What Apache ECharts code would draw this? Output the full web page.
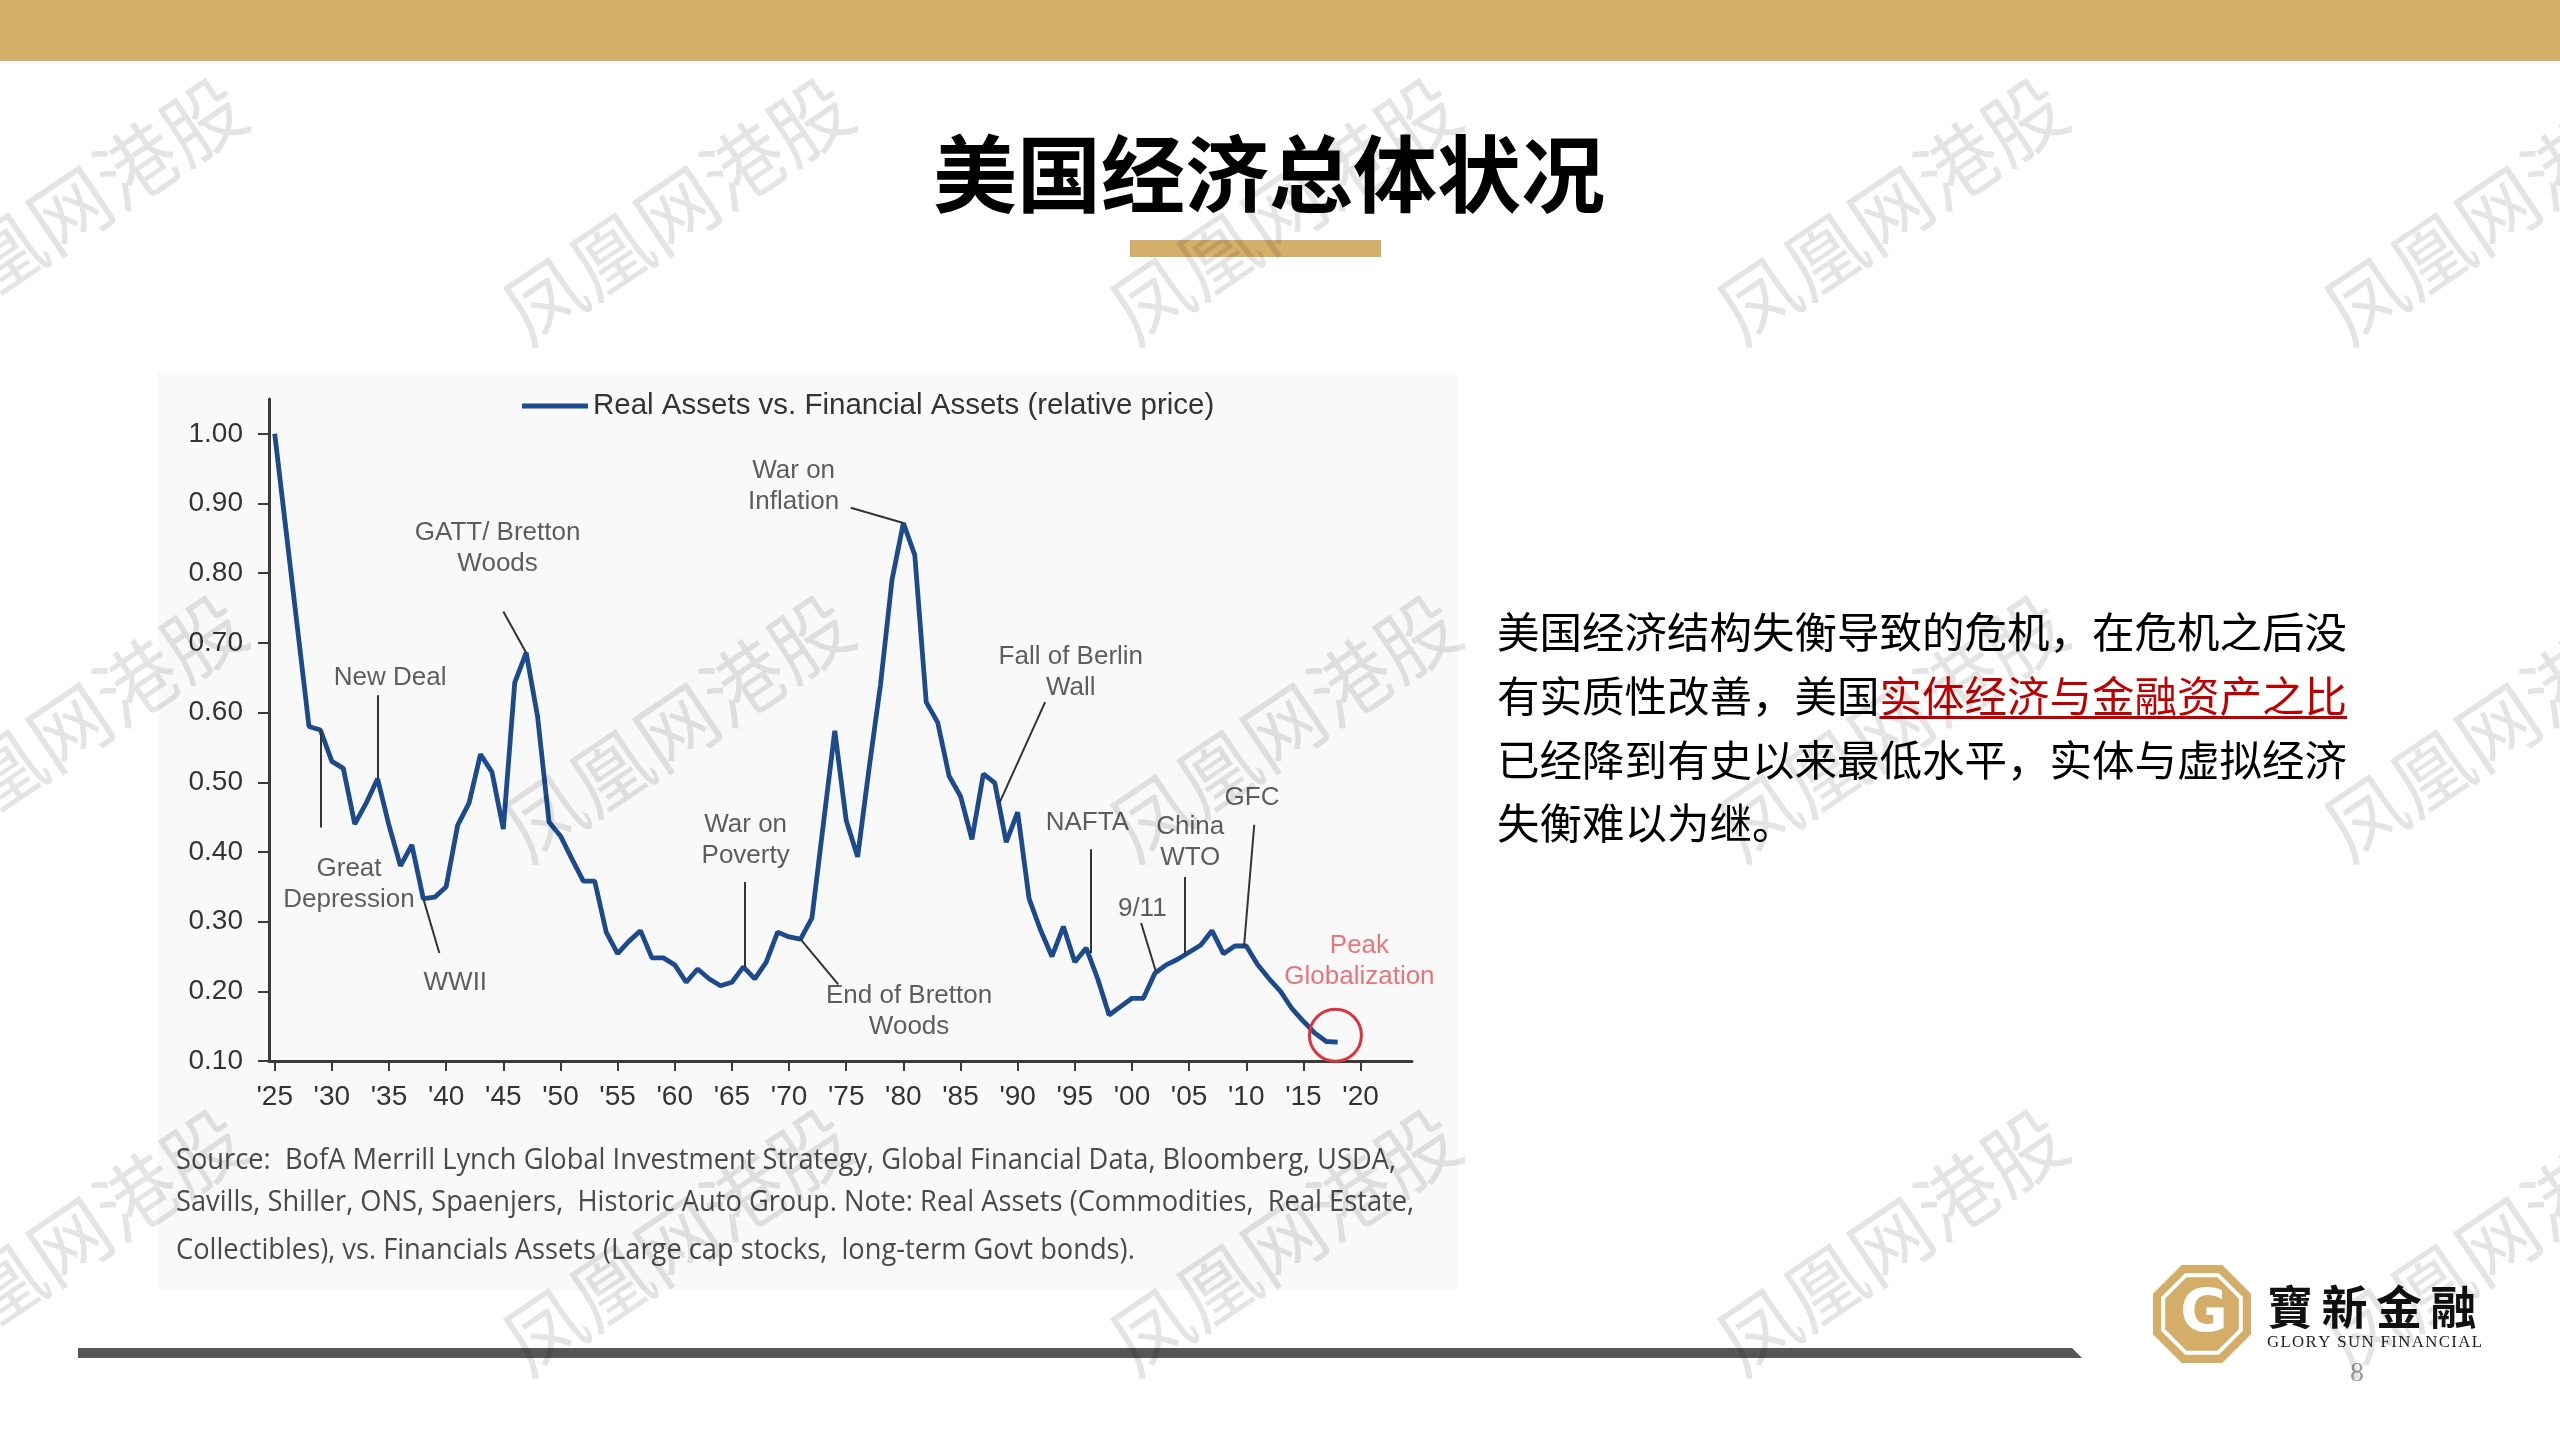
<!DOCTYPE html>
<html>
<head>
<meta charset="utf-8">
<script src="https://cdn.jsdelivr.net/npm/echarts@6/dist/echarts.min.js"></script>
<style>
html,body{margin:0;padding:0;background:#ffffff;}
#c{width:2560px;height:1440px;}
</style>
</head>
<body>
<div id="c"></div>
<script>
// ---------- DATA ----------
const years = [1925,1926,1927,1928,1929,1930,1931,1932,1933,1934,1935,1936,1937,1938,1939,1940,1941,1942,1943,1944,1945,1946,1947,1948,1949,1950,1951,1952,1953,1954,1955,1956,1957,1958,1959,1960,1961,1962,1963,1964,1965,1966,1967,1968,1969,1970,1971,1972,1973,1974,1975,1976,1977,1978,1979,1980,1981,1982,1983,1984,1985,1986,1987,1988,1989,1990,1991,1992,1993,1994,1995,1996,1997,1998,1999,2000,2001,2002,2003,2004,2005,2006,2007,2008,2009,2010,2011,2012,2013,2014,2015,2016,2017,2018];
const relativePrice = [1.00,0.86,0.72,0.58,0.575,0.53,0.52,0.44,0.47,0.505,0.438,0.38,0.41,0.333,0.335,0.35,0.438,0.47,0.54,0.515,0.433,0.643,0.686,0.594,0.443,0.423,0.39,0.358,0.358,0.285,0.254,0.272,0.287,0.248,0.248,0.238,0.213,0.232,0.218,0.208,0.213,0.235,0.218,0.242,0.285,0.278,0.275,0.305,0.44,0.574,0.445,0.393,0.52,0.64,0.79,0.872,0.826,0.615,0.586,0.509,0.48,0.418,0.512,0.499,0.414,0.457,0.333,0.288,0.25,0.293,0.242,0.262,0.218,0.166,0.178,0.19,0.19,0.226,0.238,0.246,0.256,0.266,0.287,0.254,0.265,0.265,0.238,0.218,0.2,0.175,0.157,0.14,0.128,0.127];
const seriesName = 'Real Assets vs. Financial Assets (relative price)';
const xTickYears = [1925,1930,1935,1940,1945,1950,1955,1960,1965,1970,1975,1980,1985,1990,1995,2000,2005,2010,2015,2020];
const yTickValues = [0.1,0.2,0.3,0.4,0.5,0.6,0.7,0.8,0.9,1.0];

// annotation texts anchored at data coordinates [year, value]
const annotationTexts = ['GATT/ Bretton\nWoods','New Deal','Great\nDepression','WWII','War on\nInflation','Fall of Berlin\nWall','War on\nPoverty','End of Bretton\nWoods','NAFTA','China\nWTO','GFC','9/11','Peak\nGlobalization'];
const annotationAnchors = [[1944.5,0.835],[1935.1,0.650],[1931.5,0.353],[1940.8,0.212],[1970.4,0.925],[1994.65,0.658],[1966.2,0.416],[1980.5,0.171],[1996.1,0.442],[2005.1,0.414],[2010.5,0.477],[2000.9,0.318],[2019.9,0.2435]];
const leaderLines = [
  [[1945.0,0.745],[1947,0.686]],
  [[1934,0.625],[1934,0.505]],
  [[1929,0.575],[1929,0.435]],
  [[1938,0.333],[1939.4,0.255]],
  [[1975.4,0.894],[1980,0.872]],
  [[1992.4,0.615],[1988.4,0.47]],
  [[1966.1,0.357],[1966.1,0.235]],
  [[1971,0.275],[1974.3,0.21]],
  [[1996.4,0.404],[1996.4,0.255]],
  [[2004.65,0.364],[2004.65,0.253]],
  [[2010.7,0.439],[2009.8,0.264]],
  [[2000.8,0.298],[2002.1,0.228]]
];
const peakCircleAt = [2017.8, 0.137];

const titleText = '美国经济总体状况';
const bodyLines = ['美国经济结构失衡导致的危机，在危机之后没','有实质性改善，美国','实体经济与金融资产之比','已经降到有史以来最低水平，实体与虚拟经济','失衡难以为继。'];
const sourceLines = ['Source:  BofA Merrill Lynch Global Investment Strategy, Global Financial Data, Bloomberg, USDA,','Savills, Shiller, ONS, Spaenjers,  Historic Auto Group. Note: Real Assets (Commodities,  Real Estate,','Collectibles), vs. Financials Assets (Large cap stocks,  long-term Govt bonds).'];
const logoChars = ['寶','新','金','融'];
const logoEnglish = 'GLORY SUN FINANCIAL';
const pageNumber = '8';
const watermarkText = '凤凰网港股';

// ---------- helpers ----------
const mctx = document.createElement('canvas').getContext('2d');
function textWidth(str, font){ mctx.font = font; return mctx.measureText(str).width; }
function octagon(cx, cy, r){
  const pts=[]; for(let k=0;k<8;k++){const a=(22.5+45*k)*Math.PI/180; pts.push([cx+r*Math.cos(a), cy+r*Math.sin(a)]);} return pts;
}

const gold = '#d4b06b';
const graphics = [];
// top band
graphics.push({type:'rect', z:-20, shape:{x:0,y:0,width:2560,height:61}, style:{fill:gold}});
// chart panel
graphics.push({type:'rect', z:-20, shape:{x:158,y:372,width:1299,height:918}, style:{fill:'#f9f9f9'}});
// title
graphics.push({type:'text', z:5, x:1269, y:174, style:{text:titleText, font:'bold 84px "Noto Sans CJK SC"', fill:'#000', textAlign:'center', textVerticalAlign:'middle'}});
graphics.push({type:'rect', z:5, shape:{x:1130,y:240,width:251,height:17}, style:{fill:'#d4af6a'}});
// body text
const bodyFont = '42.5px "Noto Sans CJK SC"';
graphics.push({type:'text', z:5, x:1497, y:632, style:{text:bodyLines[0], font:bodyFont, fill:'#000', textVerticalAlign:'middle'}});
graphics.push({type:'text', z:5, x:1497, y:696, style:{text:'{a|'+bodyLines[1]+'}{r|'+bodyLines[2]+'}', font:bodyFont, textVerticalAlign:'middle',
  rich:{a:{fill:'#000', font:bodyFont}, r:{fill:'#c00000', font:bodyFont}}}});
const redStart = 1497 + textWidth(bodyLines[1], bodyFont);
const redW = textWidth(bodyLines[2], bodyFont);
graphics.push({type:'rect', z:5, shape:{x:redStart, y:716, width:redW, height:3}, style:{fill:'#c00000'}});
graphics.push({type:'text', z:5, x:1497, y:760, style:{text:bodyLines[3], font:bodyFont, fill:'#000', textVerticalAlign:'middle'}});
graphics.push({type:'text', z:5, x:1497, y:823, style:{text:bodyLines[4], font:bodyFont, fill:'#000', textVerticalAlign:'middle'}});
// source note (condensed)
const srcFont = '29px "Open Sans"';
const srcScale = 1220 / textWidth(sourceLines[0], srcFont);
[1161,1203,1251].forEach((yy,i)=>{
  graphics.push({type:'text', z:5, x:176, y:yy, scaleX:srcScale, style:{text:sourceLines[i], font:srcFont, fill:'#4a4a4a', textVerticalAlign:'middle'}});
});
// bottom bar
graphics.push({type:'polygon', z:5, shape:{points:[[78,1348],[2072,1348],[2082,1358],[78,1358]]}, style:{fill:'#575557'}});
// logo
graphics.push({type:'polygon', z:5, shape:{points:octagon(2202,1314,53)}, style:{fill:'#d4ae69'}});
graphics.push({type:'polygon', z:6, shape:{points:octagon(2202,1314,42)}, style:{fill:'none', stroke:'#ffffff', lineWidth:4}});
graphics.push({type:'text', z:7, x:2204, y:1316, style:{text:'G', font:'bold 58px "DejaVu Sans"', fill:'#ffffff', textAlign:'center', textVerticalAlign:'middle'}});
logoChars.forEach((ch,i)=>{
  graphics.push({type:'text', z:5, x:2290+i*54.5, y:1307, style:{text:ch, font:'bold 46px "Noto Sans CJK TC"', fill:'#111', textAlign:'center', textVerticalAlign:'middle'}});
});
const engFont = '17px "Liberation Serif"';
const engSpaced = logoEnglish.split('').join('\u200A');
graphics.push({type:'text', z:5, x:2267, y:1343, scaleX: 215/textWidth(engSpaced, engFont), style:{text:engSpaced, font:engFont, fill:'#222', textVerticalAlign:'middle'}});
graphics.push({type:'text', z:5, x:2357, y:1374, style:{text:pageNumber, font:'28px "Liberation Serif"', fill:'#9a9a9a', textAlign:'center', textVerticalAlign:'middle'}});
// watermarks
[210,727,1241].forEach(wy=>{
  [70,677,1284,1891,2498].forEach(wx=>{
    graphics.push({type:'text', z:100, silent:true, x:wx, y:wy, rotation:34*Math.PI/180,
      style:{text:watermarkText, font:'80px "Noto Sans CJK SC"', fill:'rgba(0,0,0,0.105)', textAlign:'center', textVerticalAlign:'middle'}});
  });
});

// ---------- CHART ----------
const axisColor = '#3a3a3a';
const labelColor = '#333333';
const chart = echarts.init(document.getElementById('c'), null, {renderer:'canvas'});
const option = {
  animation:false,
  backgroundColor:'#ffffff',
  grid:{left:269, top:399, width:1143, height:662, containLabel:false},
  legend:{
    data:[seriesName], left:522, top:391, padding:0,
    icon:'rect', itemWidth:66, itemHeight:5, itemGap:6,
    textStyle:{fontFamily:'Liberation Sans', fontSize:29.5, color:'#333', padding:[0,0,0,0]}
  },
  xAxis:{
    type:'value', min:1924.5, max:2024.5,
    axisLine:{show:true, lineStyle:{color:axisColor, width:3}},
    axisTick:{show:true, customValues:xTickYears, length:10, lineStyle:{color:axisColor, width:2}},
    axisLabel:{customValues:xTickYears, formatter:v=>"'"+String(Math.round(v)).slice(2), fontFamily:'Liberation Sans', fontSize:28, color:labelColor, margin:22},
    splitLine:{show:false}
  },
  yAxis:{
    type:'value', min:0.1, max:1.05,
    axisLine:{show:true, lineStyle:{color:axisColor, width:3}},
    axisTick:{show:true, customValues:yTickValues, length:11, lineStyle:{color:axisColor, width:2}},
    axisLabel:{customValues:yTickValues, formatter:v=>v.toFixed(2), fontFamily:'Liberation Sans', fontSize:28, color:labelColor, margin:26},
    splitLine:{show:false}
  },
  series:[
    {
      name:seriesName, type:'line', showSymbol:false, symbol:'none',
      data:years.map((y,i)=>[y, relativePrice[i]]),
      lineStyle:{color:'#1c4a8c', width:4.8}, itemStyle:{color:'#1c4a8c'},
      z:3
    },
    {
      name:'annotations', type:'scatter', symbolSize:0, silent:true, z:4,
      data:annotationTexts.map((t,i)=>({name:t, value:annotationAnchors[i],
        label: i===annotationTexts.length-1 ? {color:'#e2545c'} : {}})),
      label:{show:true, position:'inside', formatter:'{b}', fontFamily:'Liberation Sans', fontSize:26, lineHeight:31, color:'#363636', align:'center', verticalAlign:'middle'},
      markLine:{
        silent:true, symbol:['none','none'], animation:false,
        lineStyle:{color:'#333', width:2, type:'solid'}, label:{show:false},
        data:leaderLines.map(seg=>[{coord:seg[0]},{coord:seg[1]}])
      },
      markPoint:{
        silent:true, symbol:'circle', symbolSize:52,
        itemStyle:{color:'rgba(0,0,0,0)', borderColor:'#d9343f', borderWidth:3},
        label:{show:false},
        data:[{coord:peakCircleAt}]
      }
    }
  ],
  graphic:graphics
};
chart.setOption(option);
</script>
</body>
</html>
